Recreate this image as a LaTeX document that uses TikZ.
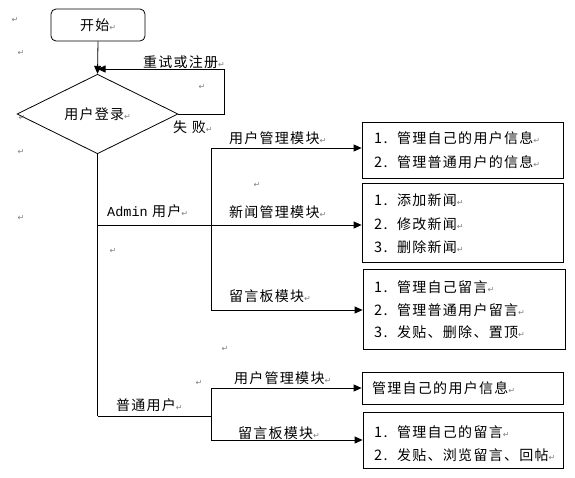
\documentclass[tikz,border=0pt]{standalone}
\usepackage{fontspec}
\setmainfont{Liberation Serif}
\newfontfamily\cjk[LetterSpace=9]{Noto Sans CJK SC}
\newfontfamily\monof{Liberation Mono}
\newfontfamily\symf{DejaVu Sans}
\usetikzlibrary{arrows.meta,shapes.geometric}
\newcommand{\rt}{{\symf\color{black!50}\fontsize{8}{9}\selectfont ↵}}
\newcommand{\nm}[1]{\makebox[23pt][l]{\fontsize{14.5}{16}\selectfont #1}}
\begin{document}
\begin{tikzpicture}[x=1pt,y=-1pt,
  txt/.style={font=\cjk\fontsize{14}{16}\selectfont, inner sep=0pt, anchor=west},
  retm/.style={font=\symf\fontsize{8}{9}\selectfont, text=black!50, inner sep=0pt},
  boxn/.style={draw, line width=0.8pt, inner sep=0pt},
  ln/.style={line width=0.8pt},
  arr/.style={line width=0.8pt, -{Triangle[length=8pt,width=7pt]}}]
\useasboundingbox (0,0) rectangle (575,477);

% start and login
\node[boxn, rounded corners=5pt, minimum width=94pt, minimum height=32pt,
      font=\cjk\fontsize{14}{16}\selectfont] (start) at (98,25) {开始\rt};
\node[boxn, diamond, minimum width=161pt, minimum height=46pt,
      font=\cjk\fontsize{14}{16}\selectfont] (login) at (97.5,114) {用户登录\rt};
\draw[arr] (start.south) -- (login.north);
\coordinate (lp) at (224,69);
\coordinate (mj) at (97.5,69);
\draw[arr] (login.east) -| (lp) -- (mj);
\node[txt] (retry) at (143,62) {重试或注册\rt};
\node[txt] (fail) at (173,127) {失\,\,败\rt};

% main trunk
\coordinate (ja) at (97.5,225);
\coordinate (jn) at (97.5,416);
\draw[ln] (login.south) -- (jn);

% admin branch
\coordinate (va) at (211,148);
\coordinate (vm) at (211,225);
\coordinate (vb) at (211,310);
\draw[ln] (ja) -- (vm);
\draw[ln] (va) -- (vb);
\node[txt] (admin) at (107,211) {{\monof\fontsize{13.5}{15}\selectfont Admin} 用户\rt};

\node[boxn, minimum width=201pt, minimum height=56pt] (b1) at (462.5,150) {};
\node[boxn, minimum width=201pt, minimum height=79pt] (b2) at (462.5,222.5) {};
\node[boxn, minimum width=202pt, minimum height=80pt] (b3) at (464,309) {};

\draw[arr] (va) -- (va -| b1.west);
\draw[arr] (vm) -- (vm -| b2.west);
\draw[arr] (vb) -- (vb -| b3.west);

\node[txt] (l1) at (229,138) {用户管理模块\rt};
\node[txt] (l2) at (229,212) {新闻管理模块\rt};
\node[txt] (l3) at (229,296) {留言板模块\rt};

\node[txt] (t11) at (374,138) {\nm{1.}管理自己的用户信息\rt};
\node[txt] (t12) at (374,162) {\nm{2.}管理普通用户的信息\rt};
\node[txt] (t21) at (374,200) {\nm{1.}添加新闻\rt};
\node[txt] (t22) at (374,224) {\nm{2.}修改新闻\rt};
\node[txt] (t23) at (374,247) {\nm{3.}删除新闻\rt};
\node[txt] (t31) at (374,287) {\nm{1.}管理自己留言\rt};
\node[txt] (t32) at (374,310) {\nm{2.}管理普通用户留言\rt};
\node[txt] (t33) at (374,332) {\nm{3.}发贴、删除、置顶\rt};

% normal user branch
\coordinate (vu) at (211,388);
\coordinate (vn) at (211,416);
\coordinate (vl) at (211,440);
\draw[ln] (jn) -- (vn);
\draw[ln] (vu) -- (vl);
\node[txt] (normal) at (116,405) {普通用户\rt};

\node[boxn, minimum width=201pt, minimum height=32pt] (b4) at (462.5,388) {};
\node[boxn, minimum width=200pt, minimum height=56pt] (b5) at (463,440) {};
\draw[arr] (vu) -- (vu -| b4.west);
\draw[arr] (vl) -- (vl -| b5.west);

\node[txt] (l4) at (234,378) {用户管理模块\rt};
\node[txt] (l5) at (238,433) {留言板模块\rt};
\node[txt] (t41) at (372,388) {管理自己的用户信息\rt};
\node[txt] (t51) at (374,432) {\nm{1.}管理自己的留言\rt};
\node[txt] (t52) at (374,455) {\nm{2.}发贴、浏览留言、回帖\rt};

% stray paragraph marks
\node[retm] (r1) at (15,20) {↵};
\node[retm] (r2) at (21,53) {↵};
\node[retm] (r3) at (22,118) {↵};
\node[retm] (r4) at (21,152) {↵};
\node[retm] (r5) at (21,218) {↵};
\node[retm] (r6) at (202,87) {↵};
\node[retm] (r7) at (257,185) {↵};
\node[retm] (r8) at (113,251) {↵};
\node[retm] (r9) at (225,349) {↵};
\node[retm] (r10) at (199,383) {↵};
\end{tikzpicture}
\end{document}
